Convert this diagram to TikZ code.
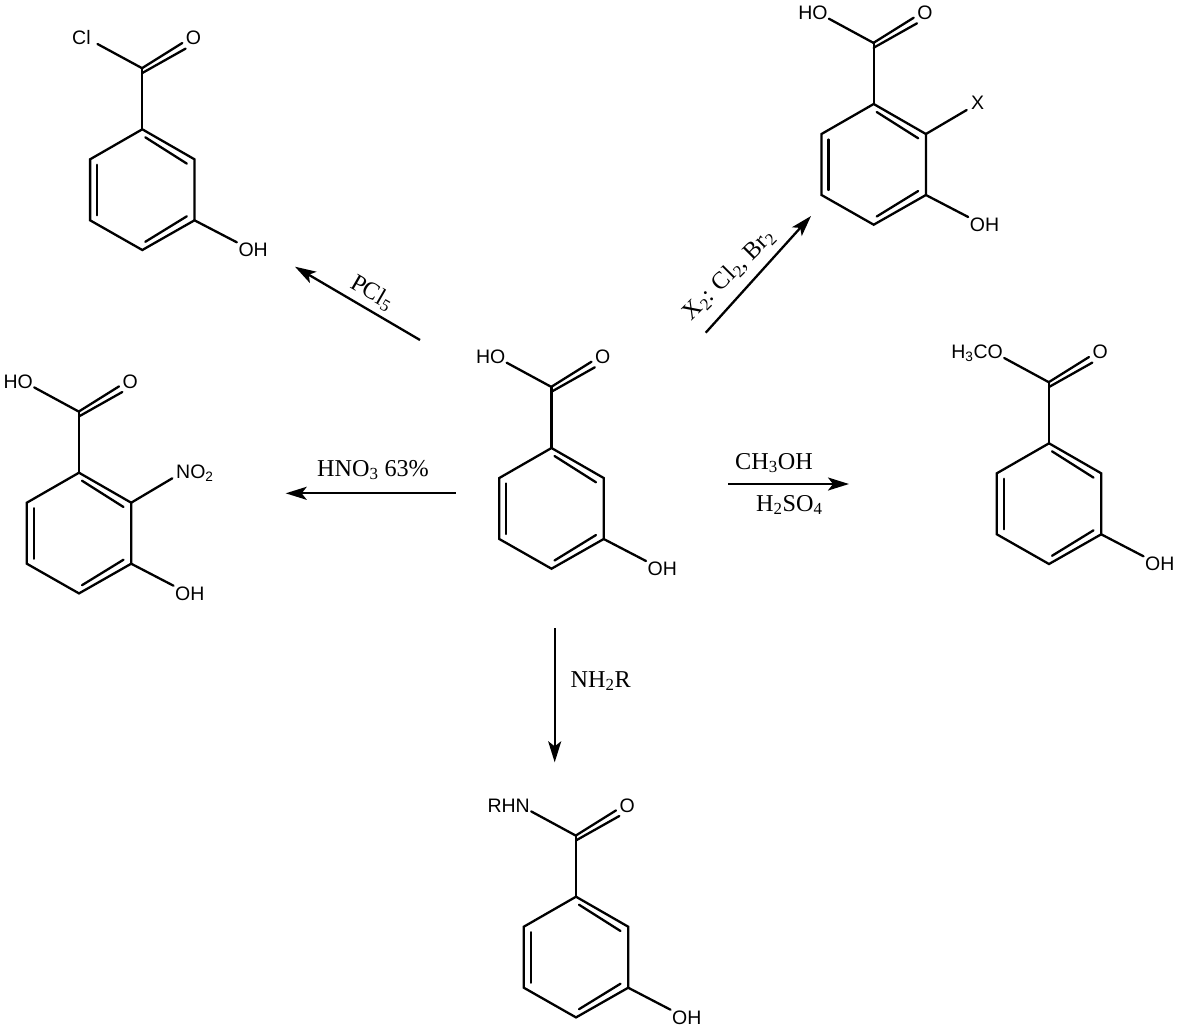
\documentclass[tikz,border=0pt]{standalone}
\usepackage{fontspec}
\setmainfont{Liberation Serif}
\newfontfamily\atomfont{Liberation Sans}
\usetikzlibrary{arrows.meta}

\tikzset{
bond/.style = {line width=2.3pt, line cap=round},
atom/.style = {inner sep=0pt, font=\atomfont\fontsize{19.5}{21}\selectfont},
reagent/.style = {inner sep=0pt, font=\fontsize{24.2}{26}\selectfont},
rxn/.style = {line width=2.3pt, -{Stealth[length=21pt, width=13pt, inset=5pt]}},
% ring with C=O group and the OH, #1 is the group on the left of the C
pics/acid/.style = {code={
    \coordinate (-top)  at (0,0);
    \coordinate (-ru)   at (52.2,30);
    \coordinate (-rd)   at (52.2,91);
    \coordinate (-bot)  at (0,120.7);
    \coordinate (-ld)   at (-52.2,91);
    \coordinate (-lu)   at (-52.2,30);
    \coordinate (-c)    at (0,-61);
    \coordinate (-grp)  at (-44.8,-85.3);
    \coordinate (-ohb)  at (94.5,113);
    \node[atom, anchor=base west] (-oh)  at (96,127.3)  {OH};
    \node[atom, anchor=base east] (-lab) at (-46,-84.5) {#1};
    \node[atom]                   (-o)   at (51.2,-91.3) {O};
%---
    \draw[bond, line join=miter] (-top) -- (-ru) -- (-rd) -- (-bot) -- (-ld) -- (-lu) -- cycle;
    \path[draw, bond]
        (-top)  edge (-c)
        (-c)    edge (-grp)
        (-rd)   edge (-ohb)
%--- inner lines
        (-45.2,35.5) edge (-45.2,86)
        (3,8)        edge (44.5,34.3)
        (3,112.5)    edge (44.5,87)
%--- C=O
        (0,-61.3)    edge (40,-86.3)
        (0,-56.3)    edge (43.3,-80.7);
}},
}

\begin{document}
\begin{tikzpicture}[x=1pt, y=-1pt]
\useasboundingbox (0,0) rectangle (1180,1029);
%-------
\pic (mid)    at (551.5,448)  {acid={HO}};
\pic (chlor)  at (142.3,129.3) {acid={Cl\kern5.5pt}};
\pic (halo)   at (873.7,104)  {acid={HO}};
\pic (nitro)  at (79,472.7)   {acid={HO}};
\pic (ester)  at (1049,443.3) {acid={H\textsubscript{3}CO}};
\pic (amide)  at (576,896.7)  {acid={RHN}};
%
\coordinate (haloEnd)   at (966.7,110);
\node[atom] (haloX)     at (977.7,102.7)  {X};
\coordinate (nitroEnd)  at (172.3,478.3);
\node[atom, anchor=base west] (nitroN) at (176,478.5) {NO\textsubscript{2}};
\draw[bond] (halo-ru)  -- (haloEnd);
\draw[bond] (nitro-ru) -- (nitroEnd);
% arrows
\coordinate (pclTail)   at (420,340);
\coordinate (pclTip)    at (295,266.7);
\coordinate (xTail)     at (705.7,332.7);
\coordinate (xTip)      at (811,216);
\coordinate (hnoTail)   at (455.7,493.3);
\coordinate (hnoTip)    at (285.7,493.3);
\coordinate (ch3Tail)   at (728.3,484);
\coordinate (ch3Tip)    at (849,484);
\coordinate (nhTail)    at (554.7,628.3);
\coordinate (nhTip)     at (554.7,762.3);
\path[rxn]
        (pclTail)   edge (pclTip)
        (xTail)     edge (xTip)
        (hnoTail)   edge (hnoTip)
        (ch3Tail)   edge (ch3Tip)
        (nhTail)    edge (nhTip);
% reagents
\node[reagent, rotate=-30]  (pcl)   at (372,293)    {PCl\textsubscript{5}};
\node[reagent, rotate=45]   (x2)    at (729,275)    {X\textsubscript{2}: Cl\textsubscript{2}, Br\textsubscript{2}};
\node[reagent]              (hno)   at (373,470)    {HNO\textsubscript{3} 63\%};
\node[reagent]              (ch3oh) at (774,463)    {CH\textsubscript{3}OH};
\node[reagent]              (h2so)  at (789.3,505)  {H\textsubscript{2}SO\textsubscript{4}};
\node[reagent]              (nh2r)  at (600.7,681)  {NH\textsubscript{2}R};
\end{tikzpicture}
\end{document}
